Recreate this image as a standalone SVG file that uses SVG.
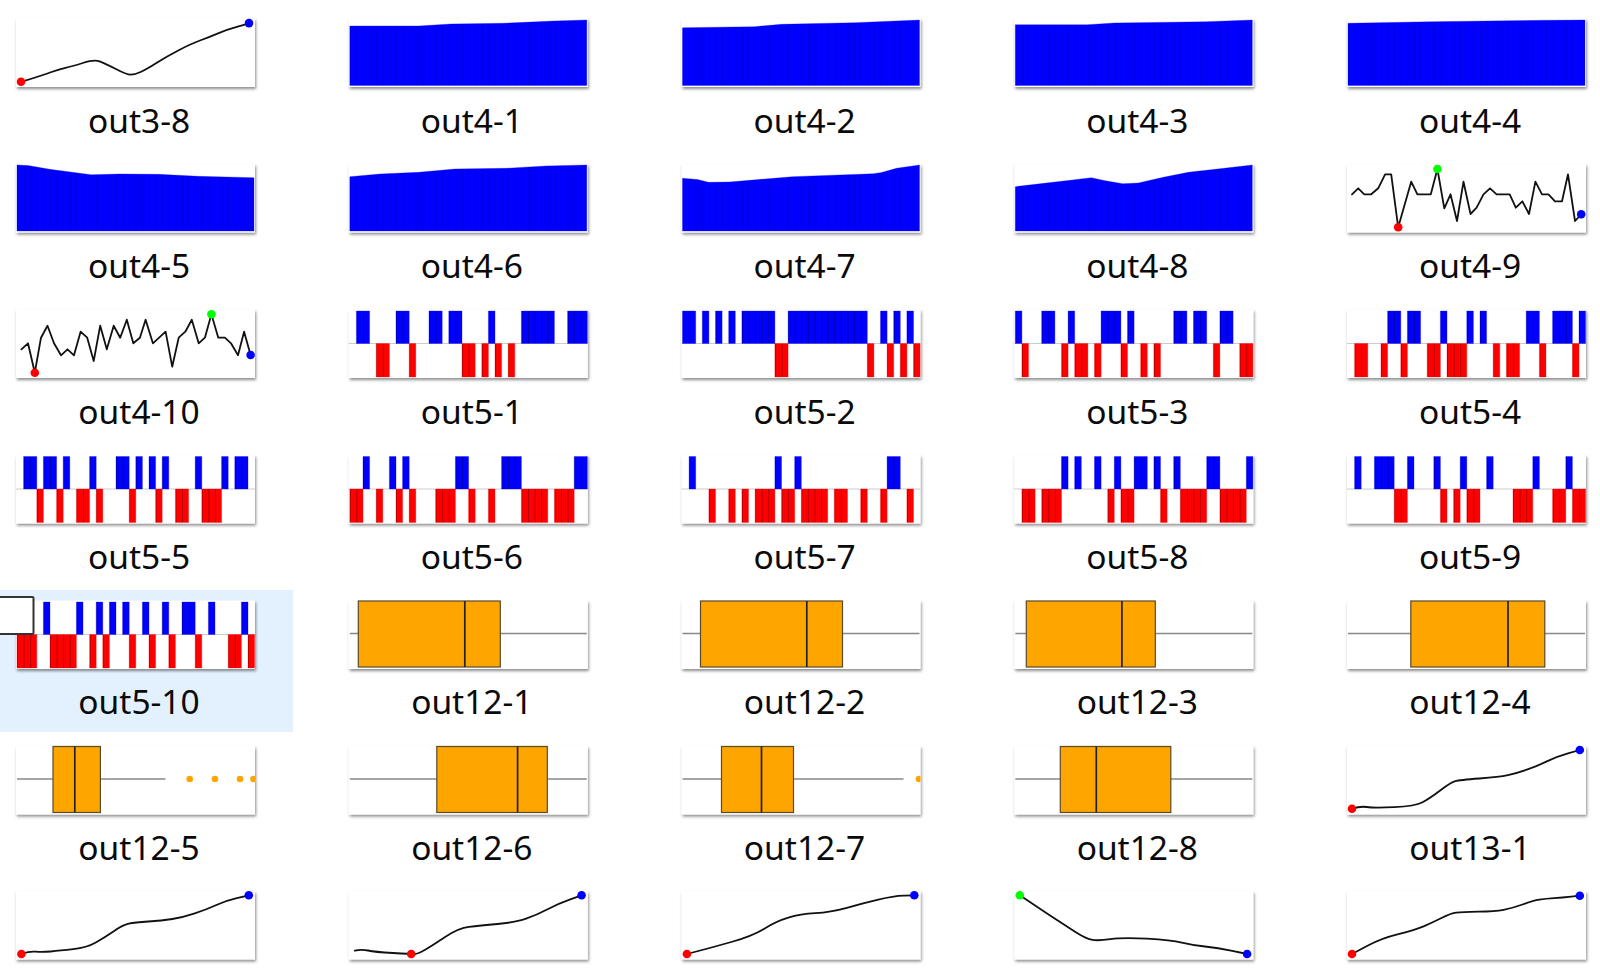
<svg xmlns="http://www.w3.org/2000/svg" width="1600" height="975" viewBox="0 0 1600 975">
<style>
text{font-family:"Noto Sans","Open Sans","Liberation Sans",sans-serif;font-size:33.5px;fill:#0a0a0a;text-anchor:middle}
.p{fill:#fff;filter:url(#sh)}
.w{transform:translate(1px,0) scale(6.6,1)}
.b{fill:url(#pb);stroke:#00f;stroke-opacity:.3;vector-effect:non-scaling-stroke}
.r{fill:url(#pr);stroke:#f00;stroke-opacity:.3;vector-effect:non-scaling-stroke}
.bl{stroke:#ccc;stroke-width:1}
.a{fill:url(#pa);stroke:#00f;stroke-opacity:.3;stroke-width:1}
.l{fill:none;stroke:#111;stroke-width:1.8;stroke-linejoin:round;stroke-linecap:round}
.wh{stroke:#888;stroke-width:1.7;fill:none}
.bx{fill:#ffa500;stroke:#5a4a2a;stroke-width:1.2}
.md{stroke:#222;stroke-width:1.7}
.o{fill:#ffa500}
.mr{fill:#f00}.mg{fill:#0f0}.mb{fill:#00f}
</style>
<defs>
<filter id="sh" x="-5%" y="-10%" width="110%" height="125%"><feDropShadow dx="1" dy="2" stdDeviation="1.5" flood-color="#000" flood-opacity=".45"/></filter>
<pattern id="pb" patternUnits="userSpaceOnUse" width="1" height="100"><rect width="1" height="100" fill="#00f"/><rect width=".1" height="100" fill="#000090"/></pattern>
<pattern id="pr" patternUnits="userSpaceOnUse" width="1" height="100"><rect width="1" height="100" fill="#f00"/><rect width=".1" height="100" fill="#900000"/></pattern>
<pattern id="pa" patternUnits="userSpaceOnUse" width="6.6" height="100" x="1"><rect width="6.6" height="100" fill="#00f"/><rect width=".5" height="100" fill="#0000c8"/></pattern>
<clipPath id="c"><rect width="239" height="69"/></clipPath>
</defs>
<rect width="1600" height="975" fill="#fff"/>
<rect id="selection" y="590" width="293" height="142" fill="#e3f1fe"/>

<g id="out3-8" transform="translate(16,18.5)"><rect class="p" width="239" height="68.5"/><path class="l" d="M5.8 63.2Q27.6 56.5 35.5 53.5Q43.4 50.5 49.4 49.3Q55.3 48.2 66.8 44.5Q78.3 40.8 83.6 42.8Q89 44.8 99.9 50.5Q110.7 56.2 114.7 56.2Q118.7 56.2 124.6 53.5Q130.5 50.8 140.4 44.5Q150.3 38.2 163.2 31.5Q176 24.8 184 22Q191.9 19.2 200.8 15.4Q209.7 11.5 221.6 8.2L233.5 4.8"/><circle class="mr" cx="5" cy="63.2" r="4.3"/><circle class="mb" cx="233" cy="4.6" r="4.3"/><text x="123" y="114.2">out3-8</text></g>
<g id="out4-1" transform="translate(348.8,18.5)"><rect class="p" width="239" height="68.5"/><polygon class="a" points="1,7.5 70,7.5 102,5.5 154,4.8 205,2.5 238,1.5 238,67 1,67"/><text x="123" y="114.2">out4-1</text></g>
<g id="out4-2" transform="translate(681.5,18.5)"><rect class="p" width="239" height="68.5"/><polygon class="a" points="1,9.2 73,8.2 100,5.8 173,4.2 238,1.5 238,67 1,67"/><text x="123" y="114.2">out4-2</text></g>
<g id="out4-3" transform="translate(1014.3,18.5)"><rect class="p" width="239" height="68.5"/><polygon class="a" points="1,6.2 73,6.2 100,4.5 192,3.2 238,1.5 238,67 1,67"/><text x="123" y="114.2">out4-3</text></g>
<g id="out4-4" transform="translate(1347,18.5)"><rect class="p" width="239" height="68.5"/><polygon class="a" points="1,4.8 84,3.2 199,1.8 238,1.5 238,67 1,67"/><text x="123" y="114.2">out4-4</text></g>

<g id="out4-5" transform="translate(16,164)"><rect class="p" width="239" height="68.5"/><polygon class="a" points="1,1 12,1.5 33.7,5.3 75,10.7 103,10 142.6,10.3 182,12.3 238,13.7 238,67 1,67"/><text x="123" y="114.1">out4-5</text></g>
<g id="out4-6" transform="translate(348.8,164)"><rect class="p" width="239" height="68.5"/><polygon class="a" points="1,12.7 31,10 70,8.3 106,5 157,4.3 197,2 238,1 238,67 1,67"/><text x="123" y="114.1">out4-6</text></g>
<g id="out4-7" transform="translate(681.5,164)"><rect class="p" width="239" height="68.5"/><polygon class="a" points="1,14.3 16,15.5 27,18.3 48,18 111,12.7 192,9.7 200,8.5 215,4.3 238,1 238,67 1,67"/><text x="123" y="114.1">out4-7</text></g>
<g id="out4-8" transform="translate(1014.3,164)"><rect class="p" width="239" height="68.5"/><polygon class="a" points="1,22.7 58,16 77,13.7 91,16.7 108.5,19.7 124,19 149,13.3 174,8.3 212,4 238,1 238,67 1,67"/><text x="123" y="114.1">out4-8</text></g>
<g id="out4-9" transform="translate(1347,164)"><rect class="p" width="239" height="68.5"/><polyline class="l" points="5,30.3 11.2,24.3 17.3,30.3 24.2,30.3 31.2,24.3 38.1,10.3 44.2,10.3 51.2,63.3 64.2,17.7 70.4,30.3 83.8,30.3 90.4,5 97.3,44.3 103.5,30.3 110,57 116.5,17.7 123.5,50 129.6,43.7 136.5,30.3 143,24.3 149.6,30.3 162.7,30.3 168.8,43.7 175.4,37.3 182,50 188.4,17.7 195,30.3 201.5,30.3 208,37.3 215,37.3 221,10.3 228,57 234.2,50.3"/><circle class="mr" cx="51.2" cy="63.3" r="4.3"/><circle class="mg" cx="90.4" cy="5" r="4.3"/><circle class="mb" cx="234.2" cy="50.3" r="4.3"/><text x="123" y="114.1">out4-9</text></g>

<g id="out4-10" transform="translate(16,309.5)"><rect class="p" width="239" height="68.5"/><polyline class="l" points="5.4,39.8 12,33.8 18.8,63.2 25,28.2 31.5,16.2 38,33.8 45,45.8 51.5,39.8 58,45.8 64.6,22.2 71.2,28.2 77.7,51.5 84.2,16.2 90.8,39.8 97.7,16.2 104.2,28.2 110.8,10.2 117.3,33.8 123.9,28.2 129.6,10.2 136.9,33.8 149.6,22.2 156.2,57.2 162.7,28.2 169.3,22.2 175.8,10.2 182.7,33.8 188.9,28.2 195.4,4.8 202.3,28.2 208.9,28.2 215,33.8 222,45.8 228.1,22.2 234.6,45.5"/><circle class="mr" cx="18.8" cy="63.2" r="4.3"/><circle class="mg" cx="195.4" cy="4.8" r="4.3"/><circle class="mb" cx="234.6" cy="45.5" r="4.3"/><text x="123" y="114">out4-10</text></g>
<g id="out5-1" transform="translate(348.8,309.5)"><rect class="p" width="239" height="68.5"/><line class="bl" x2="239" y1="34" y2="34"/><g class="w"><path class="b" d="M1 1.5H3V34H1zM7 1.5H9V34H7zM12 1.5H14V34H12zM15 1.5H17V34H15zM21 1.5H22V34H21zM26 1.5H31V34H26zM33 1.5H36V34H33z"/><path class="r" d="M4 34H6V67.5H4zM9 34H10V67.5H9zM17 34H19V67.5H17zM20 34H21V67.5H20zM22 34H23V67.5H22zM24 34H25V67.5H24z"/></g><text x="123" y="114">out5-1</text></g>
<g id="out5-2" transform="translate(681.5,309.5)"><rect class="p" width="239" height="68.5"/><line class="bl" x2="239" y1="34" y2="34"/><g class="w"><path class="b" d="M0 1.5H2V34H0zM3 1.5H4V34H3zM5 1.5H6V34H5zM7 1.5H8V34H7zM9 1.5H14V34H9zM16 1.5H28V34H16zM30 1.5H31V34H30zM32 1.5H33V34H32zM34 1.5H35V34H34z"/><path class="r" d="M14 34H16V67.5H14zM28 34H29V67.5H28zM31 34H32V67.5H31zM33 34H34V67.5H33zM35 34H36V67.5H35z"/></g><text x="123" y="114">out5-2</text></g>
<g id="out5-3" transform="translate(1014.3,309.5)"><rect class="p" width="239" height="68.5"/><line class="bl" x2="239" y1="34" y2="34"/><g class="w"><path class="b" d="M0 1.5H1V34H0zM4 1.5H6V34H4zM8 1.5H9V34H8zM13 1.5H16V34H13zM17 1.5H18V34H17zM24 1.5H26V34H24zM27 1.5H29V34H27zM31 1.5H33V34H31z"/><path class="r" d="M1 34H2V67.5H1zM7 34H8V67.5H7zM9 34H11V67.5H9zM12 34H13V67.5H12zM16 34H17V67.5H16zM19 34H20V67.5H19zM21 34H22V67.5H21zM30 34H31V67.5H30zM34 34H36V67.5H34z"/></g><text x="123" y="114">out5-3</text></g>
<g id="out5-4" transform="translate(1347,309.5)"><rect class="p" width="239" height="68.5"/><line class="bl" x2="239" y1="34" y2="34"/><g class="w"><path class="b" d="M6 1.5H8V34H6zM9 1.5H11V34H9zM14 1.5H15V34H14zM18 1.5H19V34H18zM20 1.5H21V34H20zM27 1.5H29V34H27zM31 1.5H34V34H31zM35 1.5H36V34H35z"/><path class="r" d="M1 34H3V67.5H1zM5 34H6V67.5H5zM8 34H9V67.5H8zM12 34H14V67.5H12zM15 34H18V67.5H15zM22 34H23V67.5H22zM24 34H26V67.5H24zM29 34H30V67.5H29zM34 34H35V67.5H34z"/></g><text x="123" y="114">out5-4</text></g>

<g id="out5-5" transform="translate(16,455)"><rect class="p" width="239" height="68.5"/><line class="bl" x2="239" y1="34" y2="34"/><g class="w"><path class="b" d="M1 1.5H3V34H1zM4 1.5H6V34H4zM7 1.5H8V34H7zM11 1.5H12V34H11zM15 1.5H17V34H15zM18 1.5H19V34H18zM20 1.5H21V34H20zM22 1.5H23V34H22zM27 1.5H28V34H27zM31 1.5H32V34H31zM33 1.5H35V34H33z"/><path class="r" d="M3 34H4V67.5H3zM6 34H7V67.5H6zM9 34H11V67.5H9zM12 34H13V67.5H12zM17 34H18V67.5H17zM21 34H22V67.5H21zM24 34H26V67.5H24zM28 34H31V67.5H28z"/></g><text x="123" y="113.9">out5-5</text></g>
<g id="out5-6" transform="translate(348.8,455)"><rect class="p" width="239" height="68.5"/><line class="bl" x2="239" y1="34" y2="34"/><g class="w"><path class="b" d="M2 1.5H3V34H2zM6 1.5H7V34H6zM8 1.5H9V34H8zM16 1.5H18V34H16zM23 1.5H26V34H23zM34 1.5H36V34H34z"/><path class="r" d="M0 34H2V67.5H0zM4 34H5V67.5H4zM7 34H8V67.5H7zM9 34H10V67.5H9zM13 34H16V67.5H13zM18 34H19V67.5H18zM21 34H22V67.5H21zM26 34H30V67.5H26zM31 34H34V67.5H31z"/></g><text x="123" y="113.9">out5-6</text></g>
<g id="out5-7" transform="translate(681.5,455)"><rect class="p" width="239" height="68.5"/><line class="bl" x2="239" y1="34" y2="34"/><g class="w"><path class="b" d="M1 1.5H2V34H1zM14 1.5H15V34H14zM17 1.5H18V34H17zM31 1.5H33V34H31z"/><path class="r" d="M4 34H5V67.5H4zM7 34H8V67.5H7zM9 34H10V67.5H9zM11 34H14V67.5H11zM15 34H17V67.5H15zM18 34H22V67.5H18zM23 34H25V67.5H23zM27 34H28V67.5H27zM30 34H31V67.5H30zM34 34H35V67.5H34z"/></g><text x="123" y="113.9">out5-7</text></g>
<g id="out5-8" transform="translate(1014.3,455)"><rect class="p" width="239" height="68.5"/><line class="bl" x2="239" y1="34" y2="34"/><g class="w"><path class="b" d="M7 1.5H8V34H7zM9 1.5H10V34H9zM12 1.5H13V34H12zM15 1.5H16V34H15zM18 1.5H20V34H18zM21 1.5H22V34H21zM24 1.5H25V34H24zM29 1.5H31V34H29zM35 1.5H36V34H35z"/><path class="r" d="M1 34H3V67.5H1zM4 34H7V67.5H4zM14 34H15V67.5H14zM16 34H18V67.5H16zM22 34H23V67.5H22zM25 34H29V67.5H25zM31 34H35V67.5H31z"/></g><text x="123" y="113.9">out5-8</text></g>
<g id="out5-9" transform="translate(1347,455)"><rect class="p" width="239" height="68.5"/><line class="bl" x2="239" y1="34" y2="34"/><g class="w"><path class="b" d="M1 1.5H2V34H1zM4 1.5H7V34H4zM9 1.5H10V34H9zM13 1.5H14V34H13zM17 1.5H18V34H17zM21 1.5H22V34H21zM28 1.5H29V34H28zM33 1.5H34V34H33z"/><path class="r" d="M7 34H9V67.5H7zM14 34H15V67.5H14zM16 34H17V67.5H16zM18 34H20V67.5H18zM25 34H28V67.5H25zM31 34H33V67.5H31zM34 34H36V67.5H34z"/></g><text x="123" y="113.9">out5-9</text></g>

<g id="out5-10" transform="translate(16,600.5)"><rect class="p" width="239" height="68.5"/><line class="bl" x2="239" y1="34" y2="34"/><g class="w"><path class="b" d="M4 1.5H5V34H4zM9 1.5H10V34H9zM12 1.5H13V34H12zM14 1.5H15V34H14zM16 1.5H17V34H16zM19 1.5H20V34H19zM22 1.5H23V34H22zM25 1.5H27V34H25zM29 1.5H30V34H29zM34 1.5H35V34H34z"/><path class="r" d="M0 34H3V67.5H0zM5 34H9V67.5H5zM11 34H12V67.5H11zM13 34H14V67.5H13zM17 34H18V67.5H17zM20 34H21V67.5H20zM23 34H24V67.5H23zM27 34H28V67.5H27zM32 34H34V67.5H32zM35 34H36V67.5H35z"/></g><text x="123" y="113.8">out5-10</text></g>
<g id="out12-1" transform="translate(348.8,600.5)"><rect class="p" width="239" height="68.5"/><line class="wh" x1="1" x2="238" y1="33" y2="33"/><rect class="bx" x="9.5" y=".5" width="142" height="66"/><line class="md" x1="116" x2="116" y1=".5" y2="66.5"/><text x="123" y="113.8">out12-1</text></g>
<g id="out12-2" transform="translate(681.5,600.5)"><rect class="p" width="239" height="68.5"/><line class="wh" x1="1" x2="238" y1="33" y2="33"/><rect class="bx" x="19" y=".5" width="142" height="66"/><line class="md" x1="125.3" x2="125.3" y1=".5" y2="66.5"/><text x="123" y="113.8">out12-2</text></g>
<g id="out12-3" transform="translate(1014.3,600.5)"><rect class="p" width="239" height="68.5"/><line class="wh" x1="1" x2="238" y1="33" y2="33"/><rect class="bx" x="12" y=".5" width="129" height="66"/><line class="md" x1="107.6" x2="107.6" y1=".5" y2="66.5"/><text x="123" y="113.8">out12-3</text></g>
<g id="out12-4" transform="translate(1347,600.5)"><rect class="p" width="239" height="68.5"/><line class="wh" x1="1" x2="238" y1="33" y2="33"/><rect class="bx" x="63.8" y=".5" width="134" height="66"/><line class="md" x1="161" x2="161" y1=".5" y2="66.5"/><text x="123" y="113.8">out12-4</text></g>

<g id="out12-5" transform="translate(16,746)"><rect class="p" width="239" height="68.5"/><line class="wh" x1="1" x2="149.5" y1="33" y2="33"/><rect class="bx" x="37" y=".5" width="47.4" height="66"/><line class="md" x1="58.8" x2="58.8" y1=".5" y2="66.5"/><g clip-path="url(#c)"><circle class="o" cx="173.7" cy="33" r="3.3"/><circle class="o" cx="199" cy="33" r="3.3"/><circle class="o" cx="224" cy="33" r="3.3"/><circle class="o" cx="237.5" cy="33" r="3.3"/></g><text x="123" y="113.7">out12-5</text></g>
<g id="out12-6" transform="translate(348.8,746)"><rect class="p" width="239" height="68.5"/><line class="wh" x1="1" x2="238" y1="33" y2="33"/><rect class="bx" x="88" y=".5" width="110.5" height="66"/><line class="md" x1="168.8" x2="168.8" y1=".5" y2="66.5"/><text x="123" y="113.7">out12-6</text></g>
<g id="out12-7" transform="translate(681.5,746)"><rect class="p" width="239" height="68.5"/><line class="wh" x1="1" x2="222" y1="33" y2="33"/><rect class="bx" x="40" y=".5" width="72" height="66"/><line class="md" x1="80" x2="80" y1=".5" y2="66.5"/><g clip-path="url(#c)"><circle class="o" cx="237.5" cy="33" r="3.3"/></g><text x="123" y="113.7">out12-7</text></g>
<g id="out12-8" transform="translate(1014.3,746)"><rect class="p" width="239" height="68.5"/><line class="wh" x1="1" x2="238" y1="33" y2="33"/><rect class="bx" x="46" y=".5" width="110.5" height="66"/><line class="md" x1="82" x2="82" y1=".5" y2="66.5"/><text x="123" y="113.7">out12-8</text></g>
<g id="out13-1" transform="translate(1347,746)"><rect class="p" width="239" height="68.5"/><path class="l" d="M5 62.7Q13.5 60 19.8 61Q26.1 62 47.2 61.2Q68.2 60.3 75.6 56.3Q83 52.3 93.5 44.3Q104 36.3 108.2 35.2Q112.4 34 132.4 32.5Q152.4 31 160.9 29.2Q169.3 27.3 179.8 23.7Q190.3 20 199.8 15.4Q209.3 10.7 221 7.4L232.8 4"/><circle class="mr" cx="5" cy="62.7" r="4.3"/><circle class="mb" cx="232.8" cy="4" r="4.3"/><text x="123" y="113.7">out13-1</text></g>

<g id="row7-col1" transform="translate(16,891)"><rect class="p" width="239" height="68.5"/><path class="l" d="M5.4 63Q13.8 60 19.8 60.7Q25.8 61.3 34.8 60.5Q43.8 59.7 57.3 58.2Q70.8 56.7 79.8 51.5Q88.8 46.3 97.8 40.2Q106.8 34 112.8 32.7Q118.8 31.3 132.3 30.5Q145.8 29.7 156.3 28Q166.8 26.3 178.8 22.3Q190.8 18.3 199.8 14.2Q208.8 10 220.8 7.2L232.8 4.3"/><circle class="mr" cx="5.4" cy="63" r="4.3"/><circle class="mb" cx="232.8" cy="4.3" r="4.3"/></g>
<g id="row7-col2" transform="translate(348.8,891)"><rect class="p" width="239" height="68.5"/><path class="l" d="M6 59.7Q12.6 58 19.2 59.5Q25.8 61 44.1 62Q62.4 63 65.7 63Q69 63 75.9 59Q82.8 55 96.3 46Q109.8 37 120.3 35.9Q130.8 34.7 148.8 33Q166.8 31.3 177.3 27.7Q187.8 24 198.3 18.5Q208.8 13 220.8 8.7L232.8 4.3"/><circle class="mr" cx="62.4" cy="63" r="4.3"/><circle class="mb" cx="232.8" cy="4.3" r="4.3"/></g>
<g id="row7-col3" transform="translate(681.5,891)"><rect class="p" width="239" height="68.5"/><path class="l" d="M5.4 63Q28.8 57 49.8 51Q70.8 45 82.8 37.7Q94.8 30.3 106.8 26.7Q118.8 23 133.8 22.2Q148.8 21.3 165.3 16.8Q181.8 12.3 196.8 8.7Q211.8 5 222.3 4.7L232.8 4.3"/><circle class="mr" cx="5.4" cy="63" r="4.3"/><circle class="mb" cx="232.8" cy="4.3" r="4.3"/></g>
<g id="row7-col4" transform="translate(1014.3,891)"><rect class="p" width="239" height="68.5"/><path class="l" d="M5.5 4.3L35 24L60 40.3Q70.7 47.3 77 48.7Q83.4 50 96 48.2Q108.6 46.3 132.8 47.7Q157 49 167.5 51.7Q178 54.3 190.7 55.5Q203.4 56.7 218 59.8L232.8 63"/><circle class="mg" cx="5.5" cy="4.3" r="4.3"/><circle class="mb" cx="232.8" cy="63" r="4.3"/></g>
<g id="row7-col5" transform="translate(1347,891)"><rect class="p" width="239" height="68.5"/><path class="l" d="M5 63L20 55Q34.5 47.3 51.4 43.2Q68.2 39 76.6 35.4Q85 31.7 94.5 27Q104 22.3 109.3 21.7Q114.5 21 131.4 20.7Q148.2 20.3 156.6 18.8Q165 17.3 175.5 13.5Q186 9.7 192.4 8.7Q198.7 7.7 207.1 7.2Q215.5 6.7 224.2 5.7L232.8 4.7"/><circle class="mr" cx="5" cy="63" r="4.3"/><circle class="mb" cx="232.8" cy="4.7" r="4.3"/></g>

<rect id="rename-box" x="-3" y="597" width="36.5" height="37" rx="1" fill="#fff" stroke="#333" stroke-width="2"/>
</svg>
